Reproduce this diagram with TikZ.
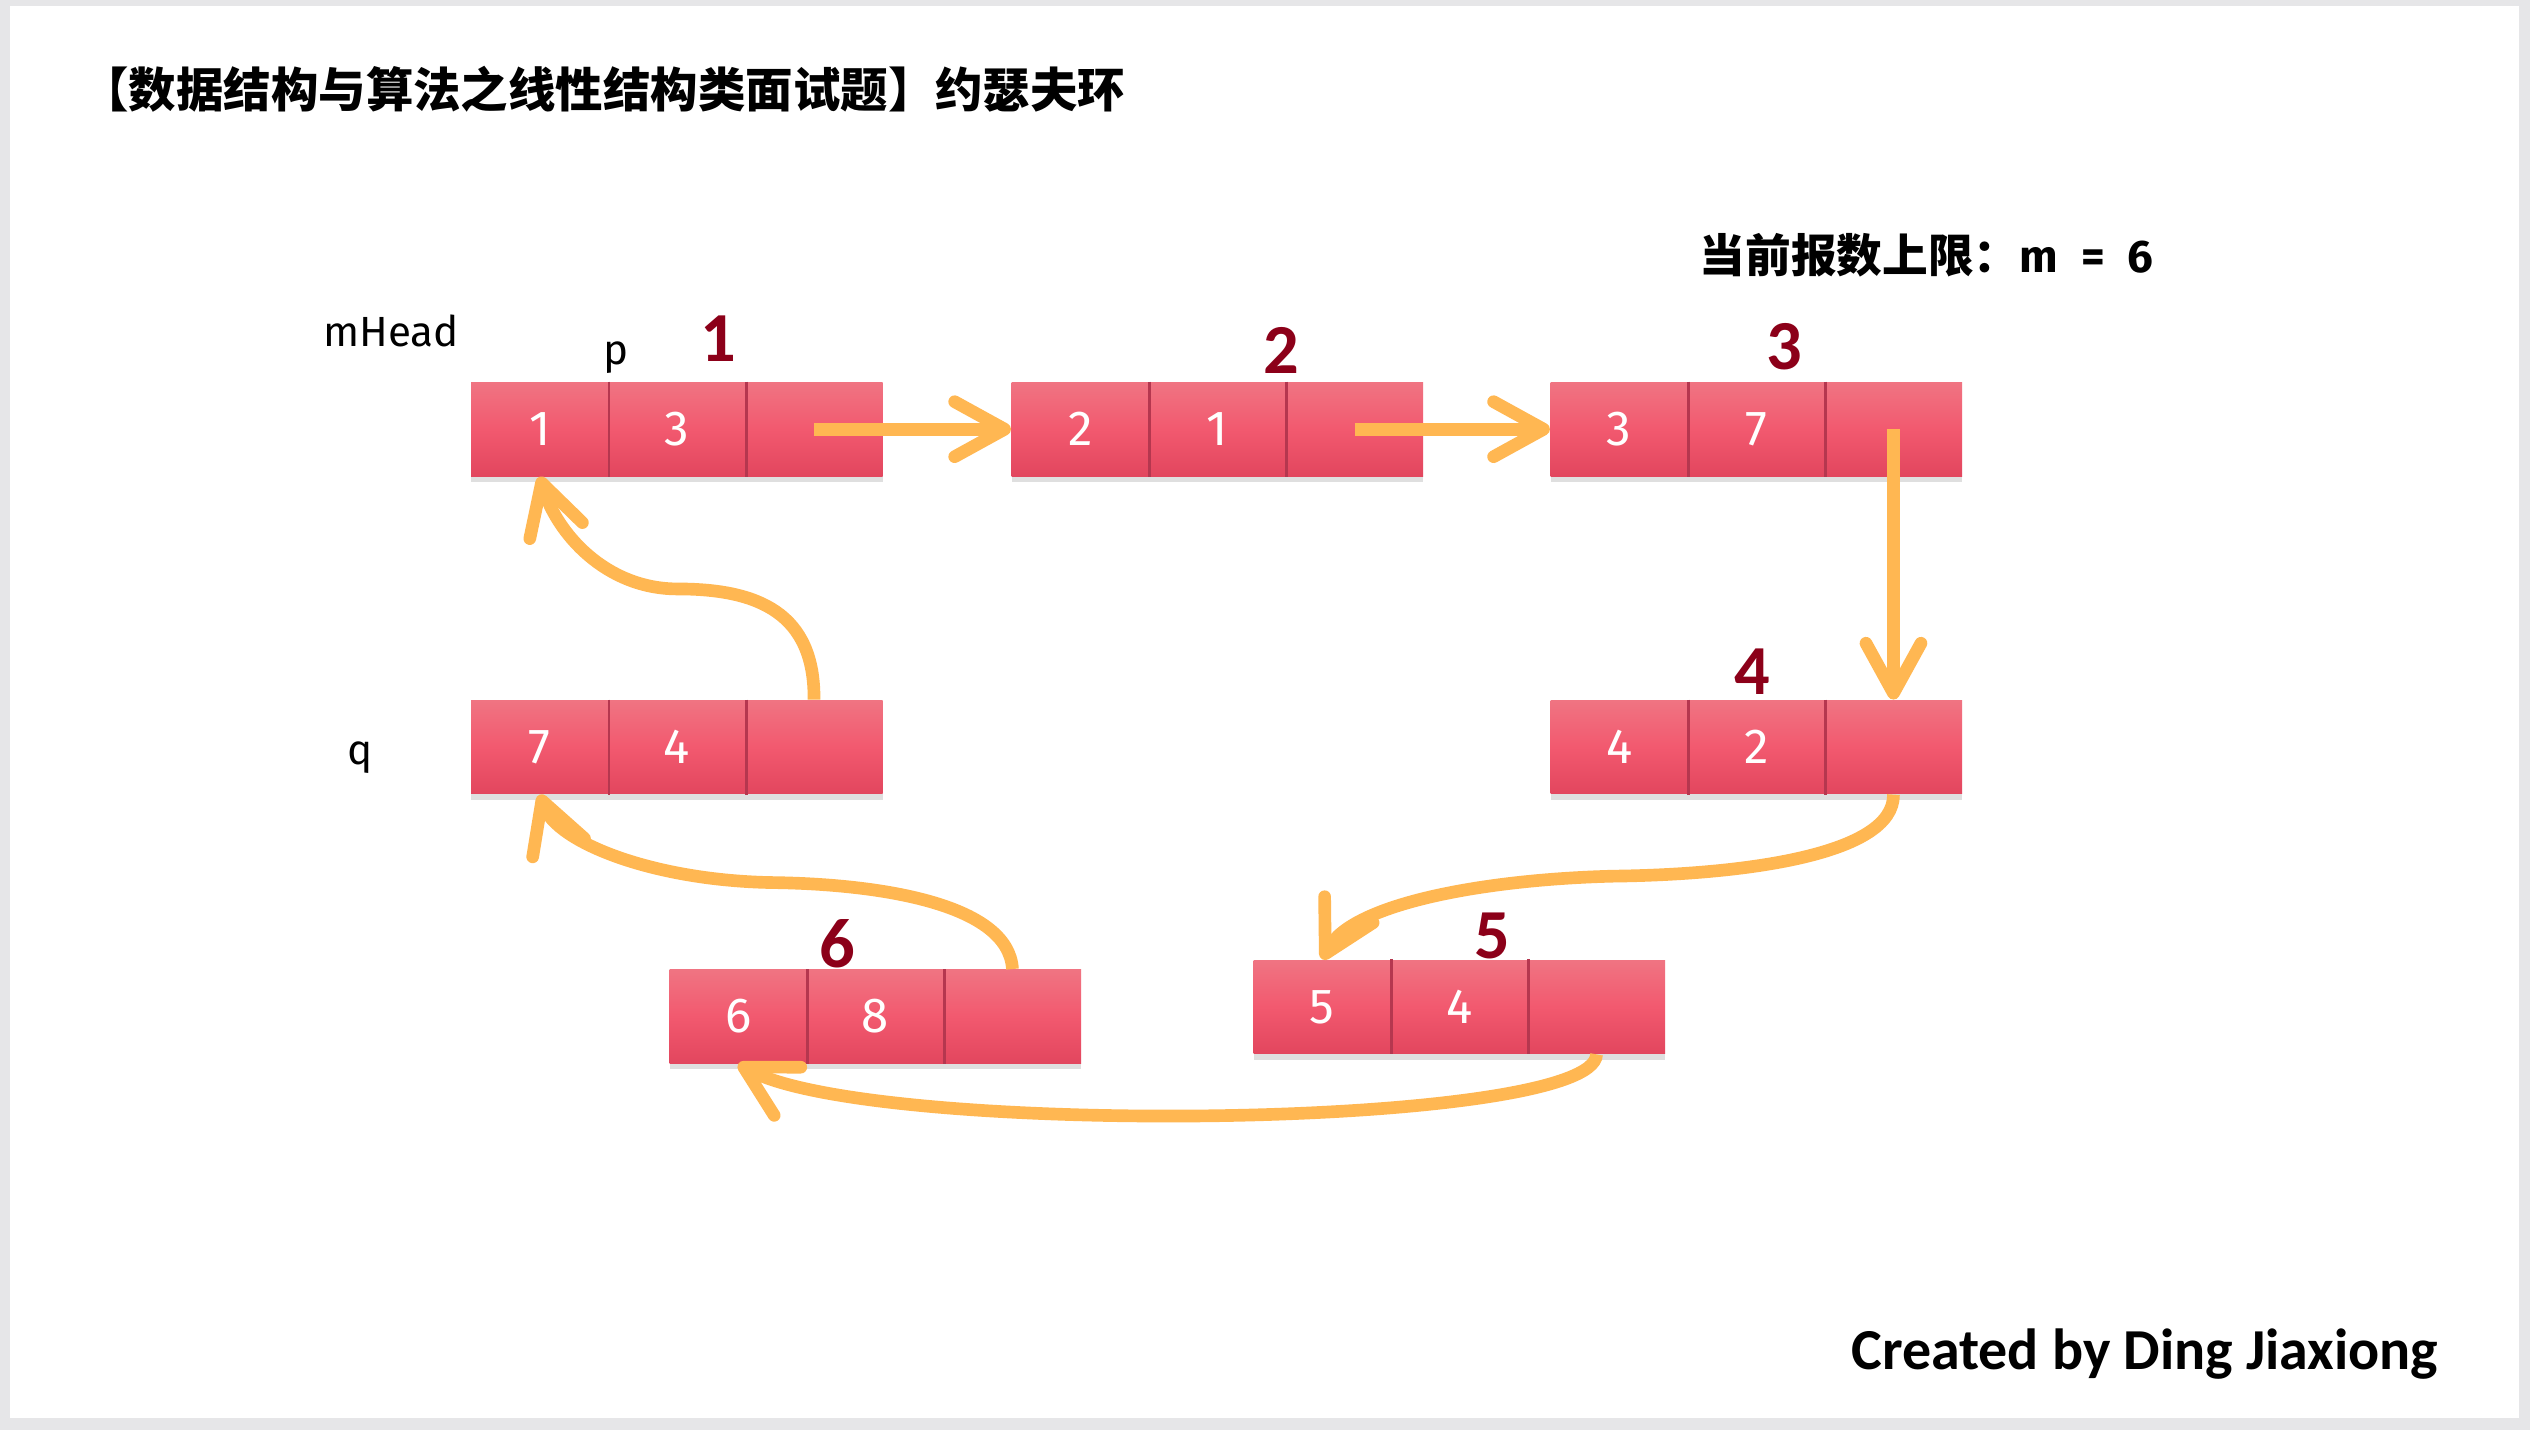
\documentclass[tikz,border=0pt]{standalone}
\usepackage{fontspec}
\usetikzlibrary{arrows.meta,shadows}

\newfontfamily\cjk{Noto Sans CJK SC}
\newfontfamily\hand{Fira Sans}
\newfontfamily\stepfont{Carlito}

\definecolor{cellTop}{HTML}{F07482}
\definecolor{cellMid}{HTML}{F2596F}
\definecolor{cellBot}{HTML}{E2465E}
\definecolor{cellEdge}{HTML}{B5374F}
\definecolor{linkOrange}{HTML}{FFB752}
\definecolor{stepRed}{HTML}{8C0019}
\definecolor{frameGray}{HTML}{E6E6E8}

\tikzset{
  cell/.style={minimum width=1.371cm, minimum height=0.936cm, inner sep=0pt,
    top color=cellTop, bottom color=cellBot, middle color=cellMid,
    drop shadow={shadow xshift=0pt, shadow yshift=-0.06cm, opacity=0.25},
    text=white, font=\hand\fontsize{14}{16}\selectfont},
  divider/.style={cellEdge, line width=0.8pt},
  link/.style={linkOrange, line width=3.6pt,
    -{Straight Barb[length=0.5cm, width=0.55cm, round]}},
  stepnum/.style={text=stepRed, font=\stepfont\bfseries\fontsize{20}{23}\selectfont},
  ptrtext/.style={inner sep=0pt, font=\hand\fontsize{12}{14}\selectfont}
}

\begin{document}
\begin{tikzpicture}[x=0.16135mm, y=-0.16135mm]
    \useasboundingbox (0,0) rectangle (1568,886);
    % page frame
    \fill[frameGray] (0,0) rectangle (1568,886);
    \fill[white] (6,4) rectangle (1561,879);

    % titles
    \node[anchor=west, inner sep=0pt, font=\cjk\bfseries\fontsize{13.5}{16}\selectfont] (title) at (50,55)
        {【数据结构与算法之线性结构类面试题】约瑟夫环};
    \node[anchor=west, inner sep=0pt, font=\cjk\bfseries\fontsize{13}{16}\selectfont] (limit) at (1053,158)
        {当前报数上限：{\hand m\hspace{0.5em}=\hspace{0.5em}6}};

    % list nodes
    \node[cell] (n1a) at (334.5,266) {1};
    \node[cell] (n1b) at (419.5,266) {3};
    \node[cell] (n1c) at (504.5,266) {};

    \node[cell] (n2a) at (669.5,266) {2};
    \node[cell] (n2b) at (754.5,266) {1};
    \node[cell] (n2c) at (839.5,266) {};

    \node[cell] (n3a) at (1003.5,266) {3};
    \node[cell] (n3b) at (1088.5,266) {7};
    \node[cell] (n3c) at (1173.5,266) {};

    \node[cell] (n4a) at (1003.5,463) {4};
    \node[cell] (n4b) at (1088.5,463) {2};
    \node[cell] (n4c) at (1173.5,463) {};

    \node[cell] (n5a) at (819.5,624) {5};
    \node[cell] (n5b) at (904.5,624) {4};
    \node[cell] (n5c) at (989.5,624) {};

    \node[cell] (n6a) at (457.5,630) {6};
    \node[cell] (n6b) at (542.5,630) {8};
    \node[cell] (n6c) at (627.5,630) {};

    \node[cell] (n7a) at (334.5,463) {7};
    \node[cell] (n7b) at (419.5,463) {4};
    \node[cell] (n7c) at (504.5,463) {};

    \foreach \n in {n1,n2,n3,n4,n5,n6,n7} {
        \draw[divider] (\n a.north east) -- (\n a.south east);
        \draw[divider] (\n b.north east) -- (\n b.south east);
    }

    % pointers and counts
    \node[ptrtext, anchor=base west] (mhead) at (200,215) {mHead};
    \node[ptrtext, anchor=base] (p) at (382,226) {p};
    \node[ptrtext, anchor=base] (q) at (223,474) {q};

    \node[stepnum] (st1) at (445,210) {1};
    \node[stepnum] (st2) at (794,217) {2};
    \node[stepnum] (st3) at (1106,215) {3};
    \node[stepnum] (st4) at (1086,416) {4};
    \node[stepnum] (st5) at (925,580) {5};
    \node[stepnum] (st6) at (519,585) {6};

    % links
    \draw[link] (n1c.center) -- (n2a.west);
    \draw[link] (n2c.center) -- (n3a.west);
    \draw[link] (n3c.center) -- (n4c.north);
    \draw[link] (n4c.south) .. controls (1174,530) and (1080,542) .. (1000,543)
        .. controls (920,545) and (838,560) .. (n5a.north);
    \draw[link] (n5c.south) .. controls (988,700) and (540,705) .. (n6a.south);
    \draw[link] (n6c.north) .. controls (625,560) and (545,548) .. (480,547)
        .. controls (405,546) and (345,522) .. (n7a.south);
    \draw[link] (n7c.north) .. controls (505,380) and (470,365) .. (420,365)
        .. controls (375,365) and (345,330) .. (n1a.south);

    \node[anchor=base west, inner sep=0pt, font=\stepfont\bfseries\fontsize{16.5}{19}\selectfont] (credit) at (1147,849)
        {Created by Ding Jiaxiong};
\end{tikzpicture}
\end{document}
